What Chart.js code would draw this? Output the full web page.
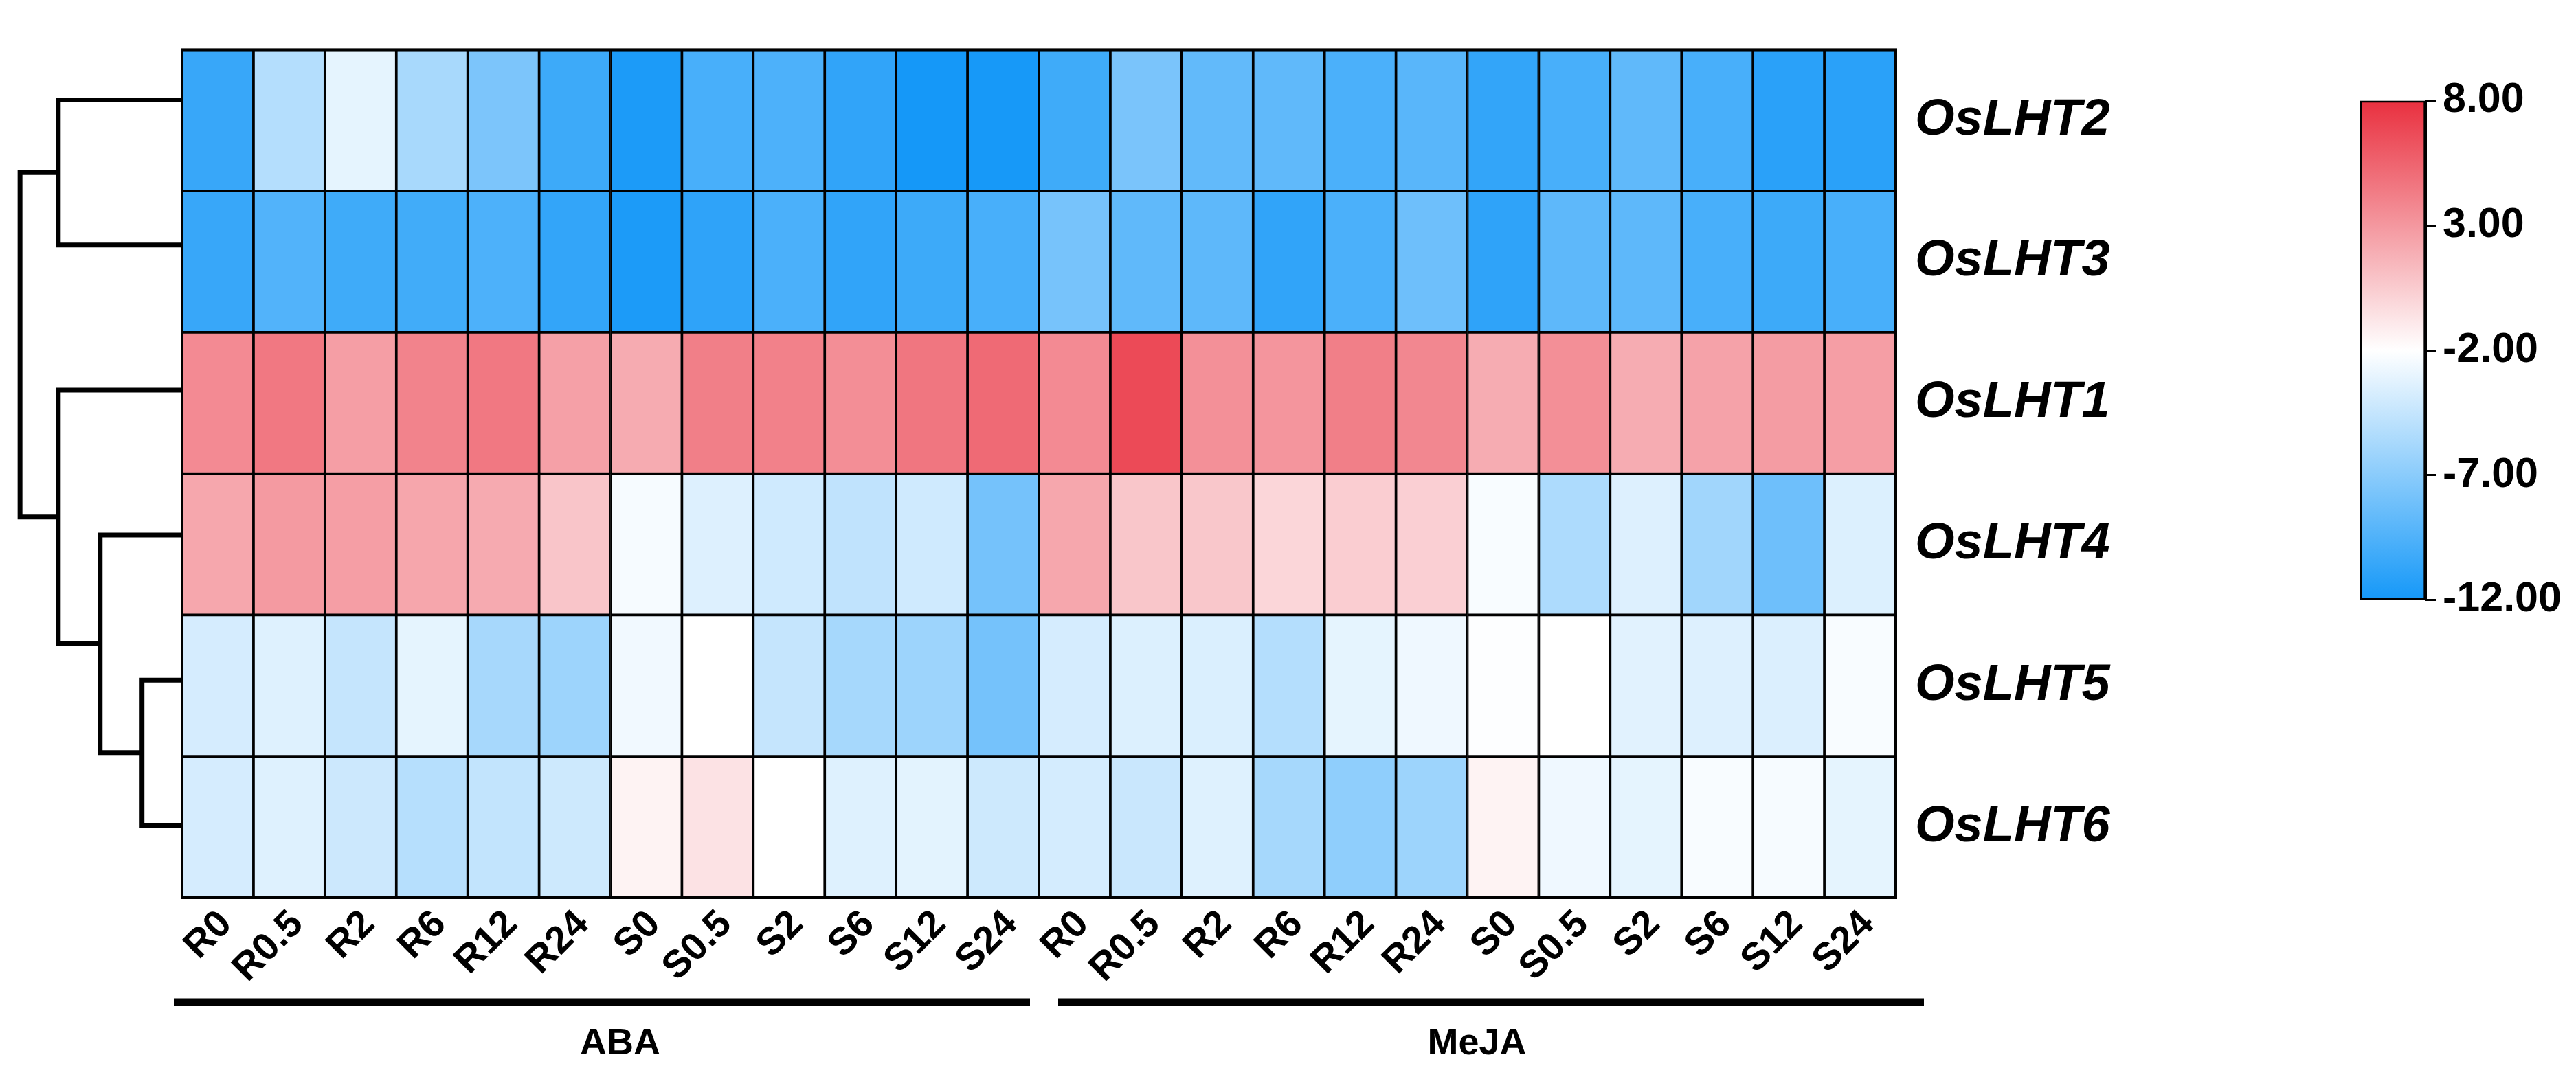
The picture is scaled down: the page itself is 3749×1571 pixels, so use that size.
<!DOCTYPE html>
<html><head><meta charset="utf-8">
<script src="https://cdn.jsdelivr.net/npm/chart.js@4.4.1/dist/chart.umd.min.js"></script>
<style>
html,body{margin:0;padding:0;background:#fff;}
body{width:3749px;height:1571px;position:relative;overflow:hidden;}
canvas{position:absolute;}
</style></head><body>
<canvas id="heat" style="left:0;top:0;width:3749px;height:1571px" width="3749" height="1571"></canvas>
<canvas id="dendro" style="left:0;top:40px;width:265px;height:1267px" width="265" height="1267"></canvas>
<canvas id="cbar" style="left:3400px;top:100px;width:349px;height:820px" width="349" height="820"></canvas>
<script>
// ---------- data ----------
const columns = ['R0','R0.5','R2','R6','R12','R24','S0','S0.5','S2','S6','S12','S24',
                 'R0','R0.5','R2','R6','R12','R24','S0','S0.5','S2','S6','S12','S24'];
const genes = ['OsLHT2','OsLHT3','OsLHT1','OsLHT4','OsLHT5','OsLHT6']; // top to bottom
const OsLHT2 = [-10.5,-5.2,-3.1,-5.7,-7.6,-10.3,-11.7,-9.8,-9.6,-10.8,-12.0,-11.9,
                -10.2,-7.7,-8.7,-8.8,-9.7,-9.1,-10.7,-9.8,-8.8,-9.8,-11.1,-11.1];
const OsLHT3 = [-10.5,-9.4,-10.2,-10.1,-9.6,-10.7,-11.7,-10.9,-9.7,-10.8,-10.3,-9.8,
                -7.8,-8.8,-8.9,-10.8,-9.7,-8.2,-10.9,-8.9,-8.9,-9.8,-10.3,-9.8];
const OsLHT1 = [3.65,4.5,2.7,4.0,4.5,2.6,2.05,4.2,4.1,3.45,4.6,5.2,
                3.65,6.75,3.35,3.1,4.2,3.8,2.0,3.4,2.0,2.5,2.8,2.7];
const OsLHT4 = [2.25,2.9,2.7,2.3,2.1,0.8,-2.4,-3.45,-4.05,-4.7,-4.05,-7.9,
                2.25,0.75,0.7,0.0,0.4,0.3,-2.3,-5.5,-3.45,-6.0,-8.2,-3.5];
const OsLHT5 = [-3.8,-3.4,-4.5,-3.1,-5.75,-6.2,-2.6,-2.0,-4.5,-5.8,-6.2,-7.9,
                -3.8,-3.5,-3.6,-5.2,-3.1,-2.7,-2.1,-2.0,-3.3,-3.45,-3.55,-2.3];
const OsLHT6 = [-3.8,-3.4,-4.2,-5.1,-4.6,-4.15,-1.4,-0.6,-2.0,-3.4,-3.2,-4.15,
                -3.85,-4.3,-3.4,-5.8,-6.8,-6.2,-1.4,-2.7,-3.1,-2.3,-2.4,-3.1];
const geneValues = [OsLHT2, OsLHT3, OsLHT1, OsLHT4, OsLHT5, OsLHT6];

const groupNames = ['ABA','MeJA'];
const groupFirst = [0, 12];
const groupLast  = [11, 23];

const cbTicks = [-12, -7, -2, 3, 8];
const cbMin = -12, cbMid = -2, cbMax = 8;

// dendrogram: leaves 0..5 (same order as genes), merged nodes 6..10
const linkLeft   = [4, 3, 0, 2, 8];
const linkRight  = [5, 6, 1, 7, 9];
const linkHeight = [0.22, 0.45, 0.68, 0.68, 0.89];

// ---------- colours ----------
const BLUE = [21,152,248], WHITE = [255,255,255], RED = [233,48,63];
function mix(a,b,t){return 'rgb('+a.map((v,i)=>Math.round(v+(b[i]-v)*t)).join(',')+')';}
function colorFor(v){
  if (v <= cbMid) return mix(WHITE, BLUE, Math.min(1,(cbMid - v)/(cbMid - cbMin)));
  return mix(WHITE, RED, Math.min(1,(v - cbMid)/(cbMax - cbMid)));
}

Chart.defaults.font.family = "'Liberation Sans', Arial, sans-serif";
Chart.defaults.color = '#000';

// ---------- heatmap ----------
const groupPlugin = {
  id: 'groups',
  afterDraw(chart, args, opts) {
    const ctx = chart.ctx, xs = chart.scales.x, ca = chart.chartArea;
    const w = xs.width / columns.length;
    ctx.save();
    // outer frame
    ctx.strokeStyle = '#000'; ctx.lineWidth = 4;
    ctx.strokeRect(ca.left, ca.top, ca.right - ca.left, ca.bottom - ca.top);
    groupNames.forEach((name, g) => {
      const x0 = xs.getPixelForValue(groupFirst[g]) - w/2 + opts.inset[g][0];
      const x1 = xs.getPixelForValue(groupLast[g]) + w/2 + opts.inset[g][1];
      ctx.fillStyle = '#000';
      ctx.fillRect(x0, ca.bottom + opts.lineOffset - opts.lineWidth/2, x1 - x0, opts.lineWidth);
      const cx = (xs.getPixelForValue(groupFirst[g]) + xs.getPixelForValue(groupLast[g]))/2 + opts.labelShift;
      ctx.font = "bold 54px 'Liberation Sans', Arial, sans-serif";
      ctx.textAlign = 'center'; ctx.textBaseline = 'middle';
      ctx.fillText(name, cx, ca.bottom + opts.labelOffset);
    });
    ctx.restore();
  }
};

new Chart(document.getElementById('heat'), {
  type: 'bar',
  data: {
    labels: columns,
    datasets: genes.map((g, i) => ({
      label: g,
      data: columns.map(() => 1),
      backgroundColor: geneValues[i].map(colorFor),
      borderColor: '#000',
      borderWidth: 2.2,
      borderSkipped: false,
      barPercentage: 1,
      categoryPercentage: 1
    }))
  },
  options: {
    responsive: false, animation: false, devicePixelRatio: 1,
    layout: { padding: { left: 265, top: 40, right: 0, bottom: 0 } },
    plugins: {
      legend: { display: false }, tooltip: { enabled: false },
      groups: { inset: [[-12, -13], [28, 41]], lineOffset: 152, lineWidth: 11, labelOffset: 213, labelShift: 14 }
    },
    scales: {
      x: {
        stacked: true,
        grid: { display: false, drawTicks: false }, border: { display: false },
        ticks: { autoSkip: false, maxRotation: 45, minRotation: 45, padding: 6, labelOffset: 12,
                 font: { size: 56, weight: 'bold' }, color: '#000' },
        afterFit: s => { s.height = 264; }
      },
      y: {
        stacked: true, min: 0, max: 6, reverse: true, position: 'right',
        grid: { display: false, drawTicks: false }, border: { display: false },
        afterBuildTicks: s => { s.ticks = genes.map((g, i) => ({ value: i + 0.5 })); },
        ticks: { autoSkip: false, padding: 28, color: '#000',
                 callback: v => genes[Math.floor(v)],
                 font: { size: 74, weight: 'bold', style: 'italic' } },
        afterFit: s => { s.width = 990; }
      }
    }
  },
  plugins: [groupPlugin]
});

// ---------- dendrogram ----------
const nodeY = genes.map((g, i) => i + 0.5);
const nodeH = genes.map(() => 0);
linkLeft.forEach((a, k) => {
  const b = linkRight[k];
  nodeY.push((nodeY[a] + nodeY[b]) / 2);
  nodeH.push(linkHeight[k]);
});
new Chart(document.getElementById('dendro'), {
  type: 'scatter',
  data: {
    datasets: linkLeft.map((a, k) => {
      const b = linkRight[k], h = linkHeight[k];
      return {
        data: [{x: nodeH[a], y: nodeY[a]}, {x: h, y: nodeY[a]}, {x: h, y: nodeY[b]}, {x: nodeH[b], y: nodeY[b]}],
        showLine: true, borderColor: '#000', borderWidth: 7, pointRadius: 0, tension: 0,
        borderJoinStyle: 'miter', borderCapStyle: 'butt', clip: 10
      };
    })
  },
  options: {
    responsive: false, animation: false, devicePixelRatio: 1,
    layout: { padding: 0 },
    plugins: { legend: { display: false }, tooltip: { enabled: false } },
    scales: {
      x: { type: 'linear', min: 0, max: 1, reverse: true, display: false },
      y: { type: 'linear', min: 0, max: 6, reverse: true, display: false }
    }
  }
});

// ---------- colour bar ----------
new Chart(document.getElementById('cbar'), {
  type: 'bar',
  data: {
    labels: [''],
    datasets: [{
      data: [[cbMin, cbMax]],
      backgroundColor: c => {
        const ch = c.chart; if (!ch.chartArea) return '#fff';
        const ys = ch.scales.y;
        const g = ch.ctx.createLinearGradient(0, ys.getPixelForValue(cbMin), 0, ys.getPixelForValue(cbMax));
        g.addColorStop(0, mix(BLUE, BLUE, 0));
        g.addColorStop((cbMid - cbMin) / (cbMax - cbMin), mix(WHITE, WHITE, 0));
        g.addColorStop(1, mix(RED, RED, 0));
        return g;
      },
      borderColor: '#000', borderWidth: 3, borderSkipped: false,
      barPercentage: 1, categoryPercentage: 1
    }]
  },
  options: {
    responsive: false, animation: false, devicePixelRatio: 1,
    layout: { padding: { left: 35, top: 38, bottom: 46, right: 0 } },
    plugins: { legend: { display: false }, tooltip: { enabled: false } },
    scales: {
      x: { display: false },
      y: {
        position: 'right', min: cbMin, max: cbMax,
        afterBuildTicks: s => { s.ticks = cbTicks.map(v => ({ value: v })); },
        ticks: { callback: v => v.toFixed(2), font: { size: 61, weight: 'bold' }, color: '#000', padding: 10, autoSkip: false },
        grid: { drawOnChartArea: false, drawTicks: true, tickLength: 15, color: '#000', lineWidth: 3 },
        border: { display: true, color: '#000', width: 3 },
        afterFit: s => { s.width = 219; }
      }
    }
  }
});
</script>
</body></html>
